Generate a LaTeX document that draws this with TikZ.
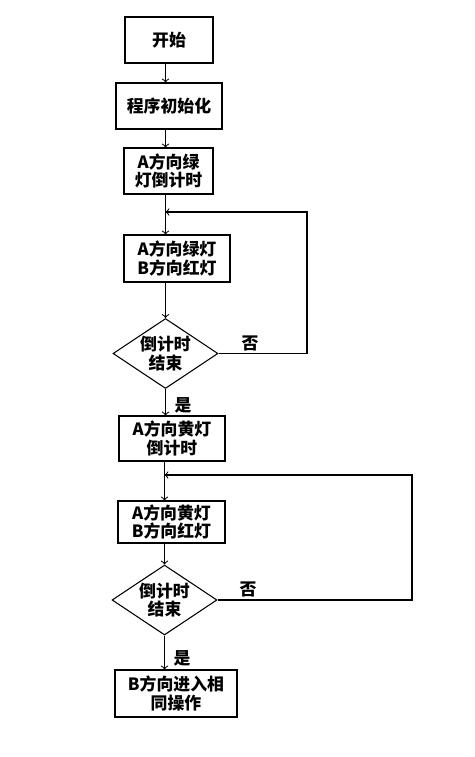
\documentclass[tikz,border=0pt]{standalone}
\usepackage{fontspec}
\setmainfont{Noto Sans CJK SC}
\usetikzlibrary{shapes.geometric}
\begin{document}
\begin{tikzpicture}
		[
		x=0.02cm, y=-0.02cm,
		line width=0.6pt,
		every node/.style={font=\fontsize{9.6}{10.4}\selectfont\bfseries},
		box/.style={draw, rectangle, align=center, inner sep=0pt, minimum height=0.92cm},
		decision/.style={draw, diamond, align=center, inner sep=0pt, shape aspect=1.5, minimum width=2.1cm, minimum height=1.4cm},
		arr/.style={->}
		]
		\useasboundingbox (0,0) rectangle (474,757);
		\node[box, minimum width=1.76cm] (start) at (169,40) {开始};
		\node[box, minimum width=2.12cm] (init) at (169,106) {程序初始化};
		\node[box, minimum width=1.78cm] (agreen) at (168.5,171) {A方向绿\\灯倒计时};
		\node[box, minimum width=2.12cm, minimum height=0.94cm] (agbr) at (177,258.5) {A方向绿灯\\B方向红灯};
		\node[decision] (d1) at (165.5,353.5) {倒计时\\结束};
		\node[box, minimum width=2.12cm, minimum height=0.9cm] (ayel) at (172,438.5) {A方向黄灯\\倒计时};
		\node[box, minimum width=2.14cm, minimum height=0.84cm] (aybr) at (171.5,522) {A方向黄灯\\B方向红灯};
		\node[decision] (d2) at (164.5,600) {倒计时\\结束};
		\node[box, minimum width=2.44cm, minimum height=0.94cm] (bsame) at (176,693.5) {B方向进入相\\同操作};
		\node (no1) at (250,343) {否};
		\node (yes1) at (183,405) {是};
		\node (no2) at (248,589) {否};
		\node (yes2) at (182,658) {是};
		\coordinate (r1) at (307,212);
		\coordinate (r2) at (412,475);
		\draw[arr] (start.south -| d1) -- (init.north -| d1);
		\draw[arr] (init.south -| d1) -- (agreen.north -| d1);
		\draw[arr] (agreen.south -| d1) -- (agbr.north -| d1);
		\draw[arr] (agbr.south -| d1) -- (d1.north);
		\draw[arr] (d1.east) -| (r1) -- (r1 -| d1);
		\draw[arr] (d1.south) -- (ayel.north -| d1);
		\draw[arr] (ayel.south -| d2) -- (aybr.north -| d2);
		\draw[arr] (aybr.south -| d2) -- (d2.north);
		\draw[arr] (d2.east) -| (r2) -- (r2 -| d2);
		\draw[arr] (d2.south) -- (bsame.north -| d2);
\end{tikzpicture}
\end{document}
